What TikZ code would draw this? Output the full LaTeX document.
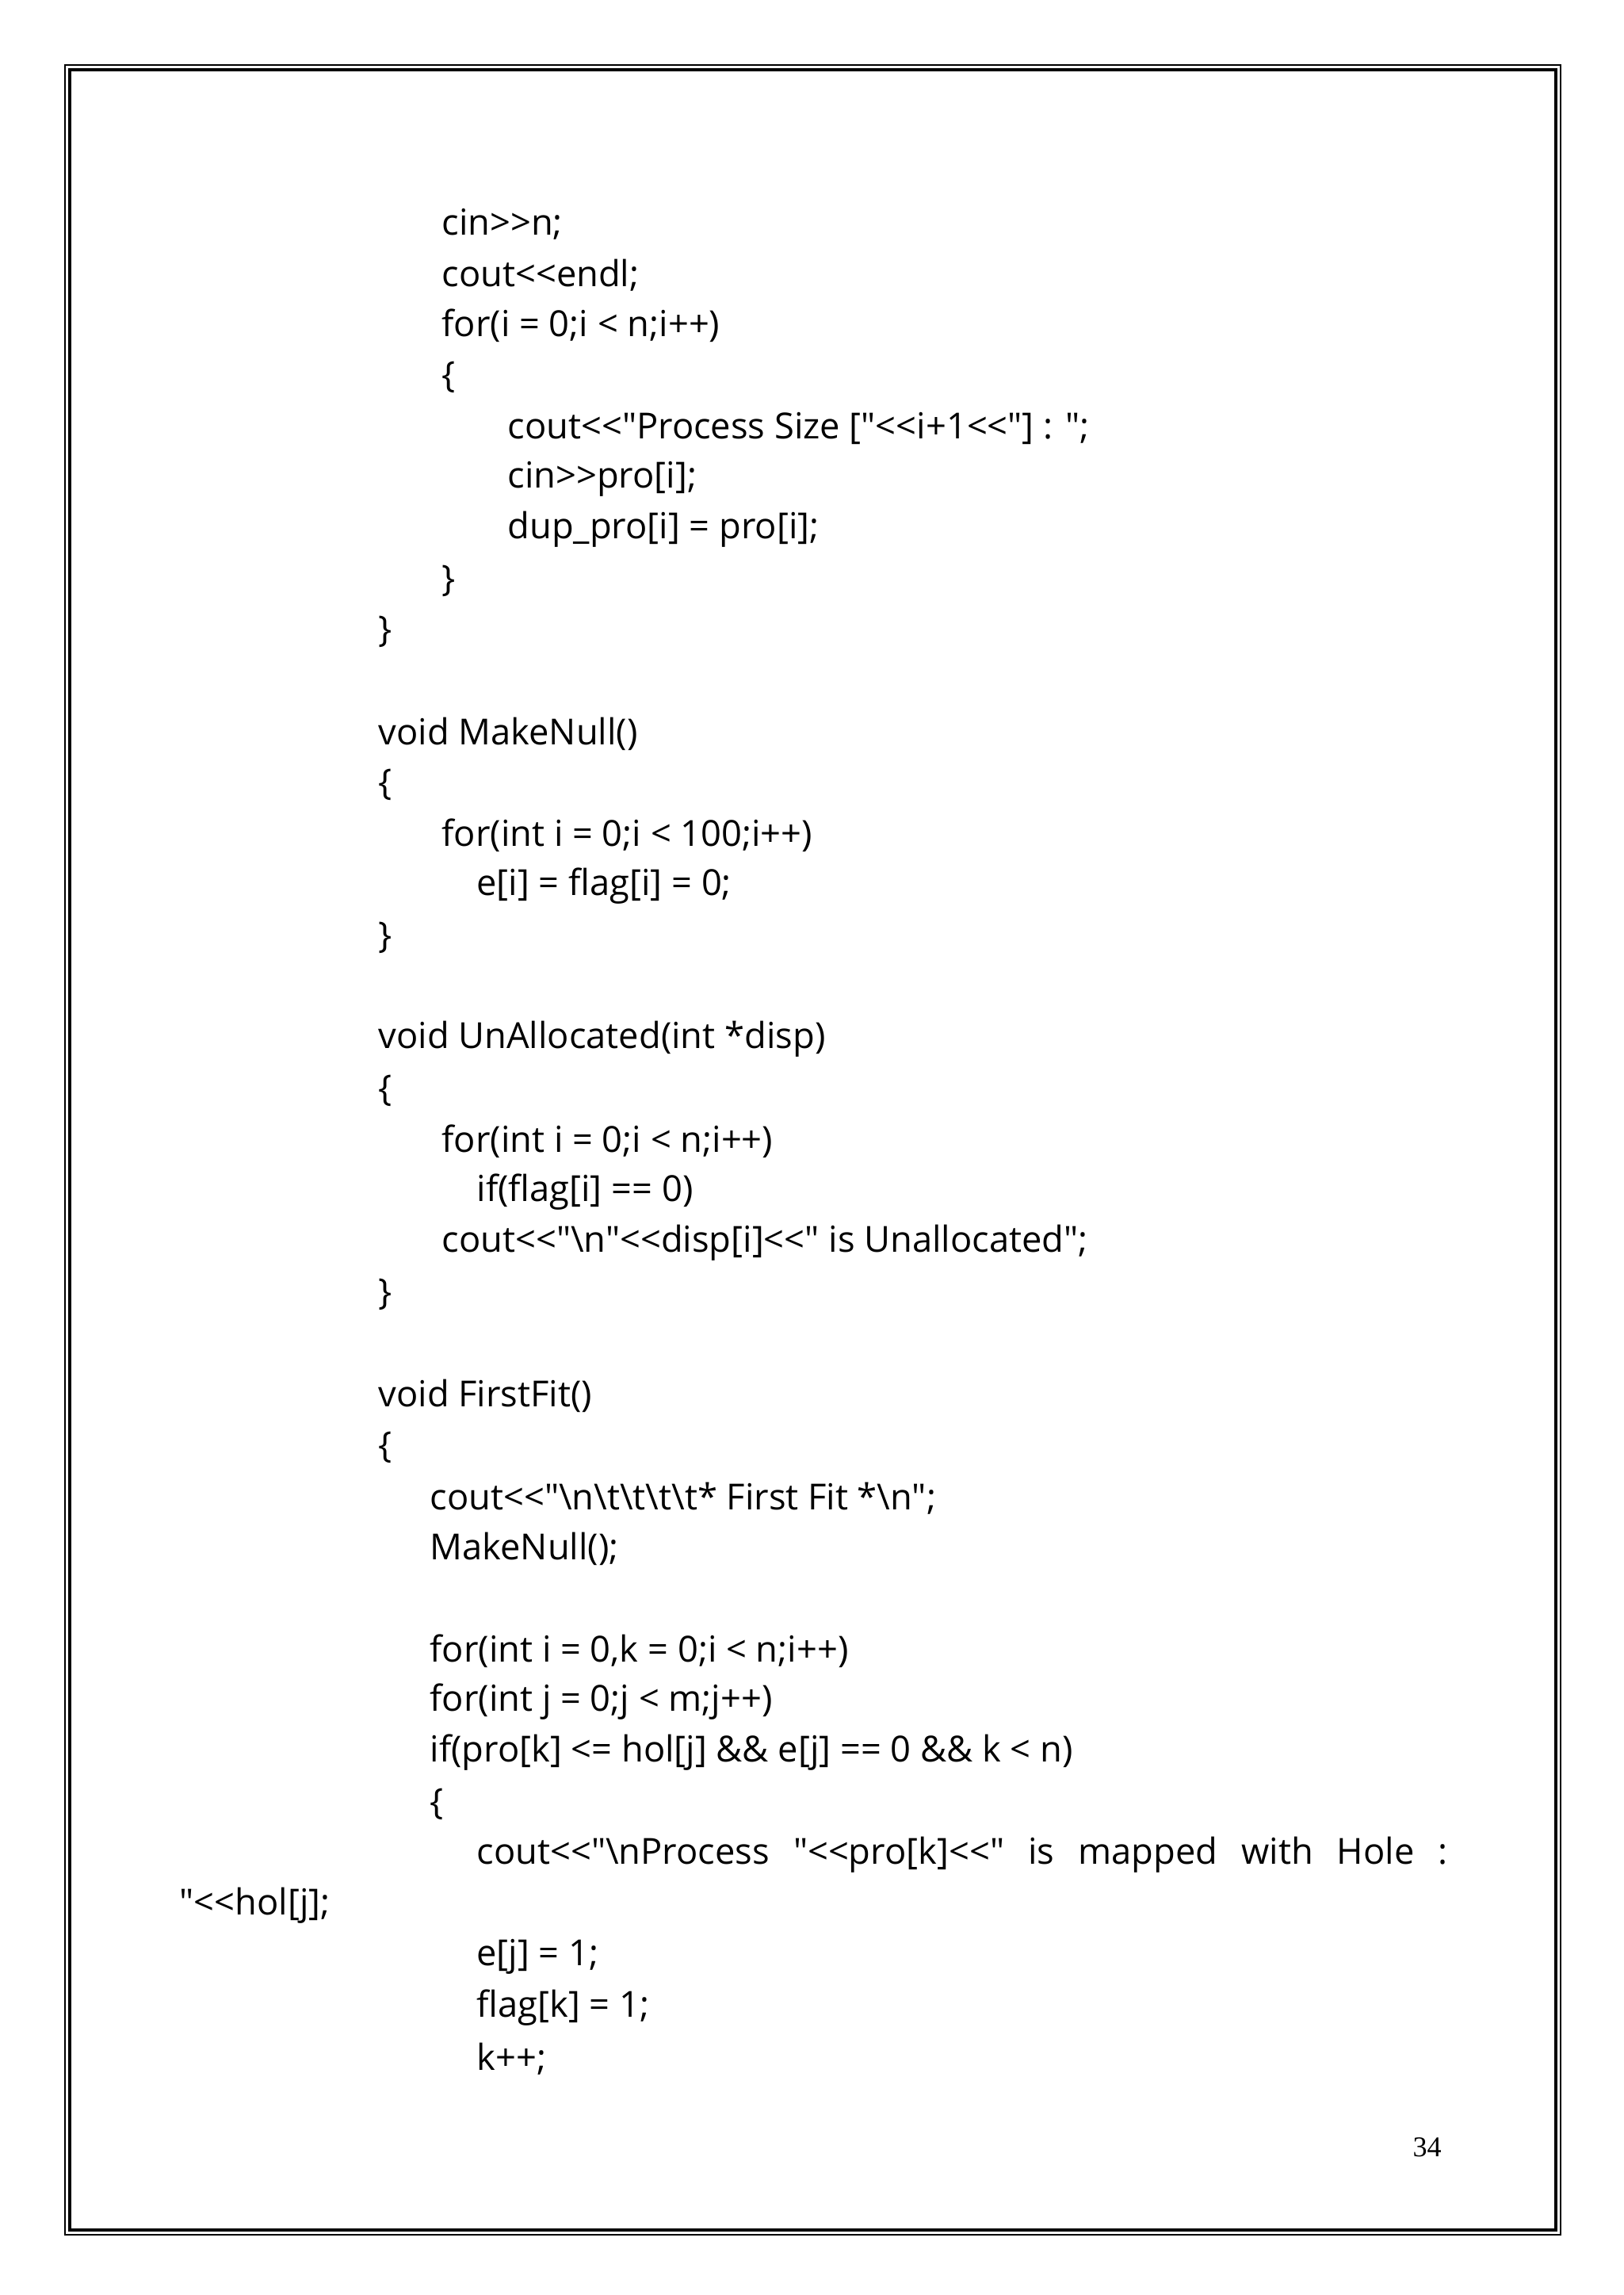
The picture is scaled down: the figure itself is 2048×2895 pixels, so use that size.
\documentclass[tikz,border=0pt]{standalone}
\usepackage{fontspec}
\setmainfont{Open Sans}[Ligatures=TeXOff]
\newfontfamily\numfont{Liberation Serif}
\begin{document}
\begin{tikzpicture}[x=0.36pt,y=-0.36pt,
  code/.style={anchor=west,inner sep=0pt,font=\fontsize{16.3}{19}\selectfont}]
\useasboundingbox (0,0) rectangle (2048,2895);
\draw[line width=0.7pt] (82,82) rectangle (1969,2819);
\draw[line width=1.2pt] (88,88) rectangle (1963,2813);
\def\bs{\textbackslash}
\node[code] (l1) at (557,283) {cin>>n;};
\node[code] (l2) at (557,347) {cout<<endl;};
\node[code] (l3) at (557,411) {for(i = 0;i < n;i++)};
\node[code] (l4) at (557,476) {\{};
\node[code] (l5) at (640,540) {cout<<"Process Size ["<<i+1<<"] : ";};
\node[code] (l6) at (640,604) {cin>>pro[i];};
\node[code] (l7) at (640,668) {dup\_pro[i] = pro[i];};
\node[code] (l8) at (557,733) {\}};
\node[code] (l9) at (477,797) {\}};
\node[code] (l10) at (477,926) {void MakeNull()};
\node[code] (l11) at (477,990) {\{};
\node[code] (l12) at (557,1054) {for(int i = 0;i < 100;i++)};
\node[code] (l13) at (601,1118) {e[i] = flag[i] = 0;};
\node[code] (l14) at (477,1183) {\}};
\node[code] (l15) at (477,1311) {void UnAllocated(int *disp)};
\node[code] (l16) at (477,1376) {\{};
\node[code] (l17) at (557,1440) {for(int i = 0;i < n;i++)};
\node[code] (l18) at (601,1504) {if(flag[i] == 0)};
\node[code] (l19) at (557,1568) {cout<<"\bs n"<<disp[i]<<" is Unallocated";};
\node[code] (l20) at (477,1633) {\}};
\node[code] (l21) at (477,1761) {void FirstFit()};
\node[code] (l22) at (477,1826) {\{};
\node[code] (l23) at (542,1890) {cout<<"\bs n\bs t\bs t\bs t\bs t* First Fit *\bs n";};
\node[code] (l24) at (542,1954) {MakeNull();};
\node[code] (l25) at (542,2083) {for(int i = 0,k = 0;i < n;i++)};
\node[code] (l26) at (542,2147) {for(int j = 0;j < m;j++)};
\node[code] (l27) at (542,2211) {if(pro[k] <= hol[j] \&\& e[j] == 0 \&\& k < n)};
\node[code] (l28) at (542,2276) {\{};
\node[code] (l29) at (601,2340) {\makebox[441pt][s]{cout<<"\bs nProcess "<<pro[k]<<" is mapped with Hole :}};
\node[code] (l30) at (226,2404) {"<<hol[j];};
\node[code] (l31) at (601,2468) {e[j] = 1;};
\node[code] (l32) at (601,2533) {flag[k] = 1;};
\node[code] (l33) at (601,2597) {k++;};
\node[anchor=west,inner sep=0pt,font=\numfont\fontsize{13}{15}\selectfont] (pg) at (1782,2709) {34};
\end{tikzpicture}
\end{document}
